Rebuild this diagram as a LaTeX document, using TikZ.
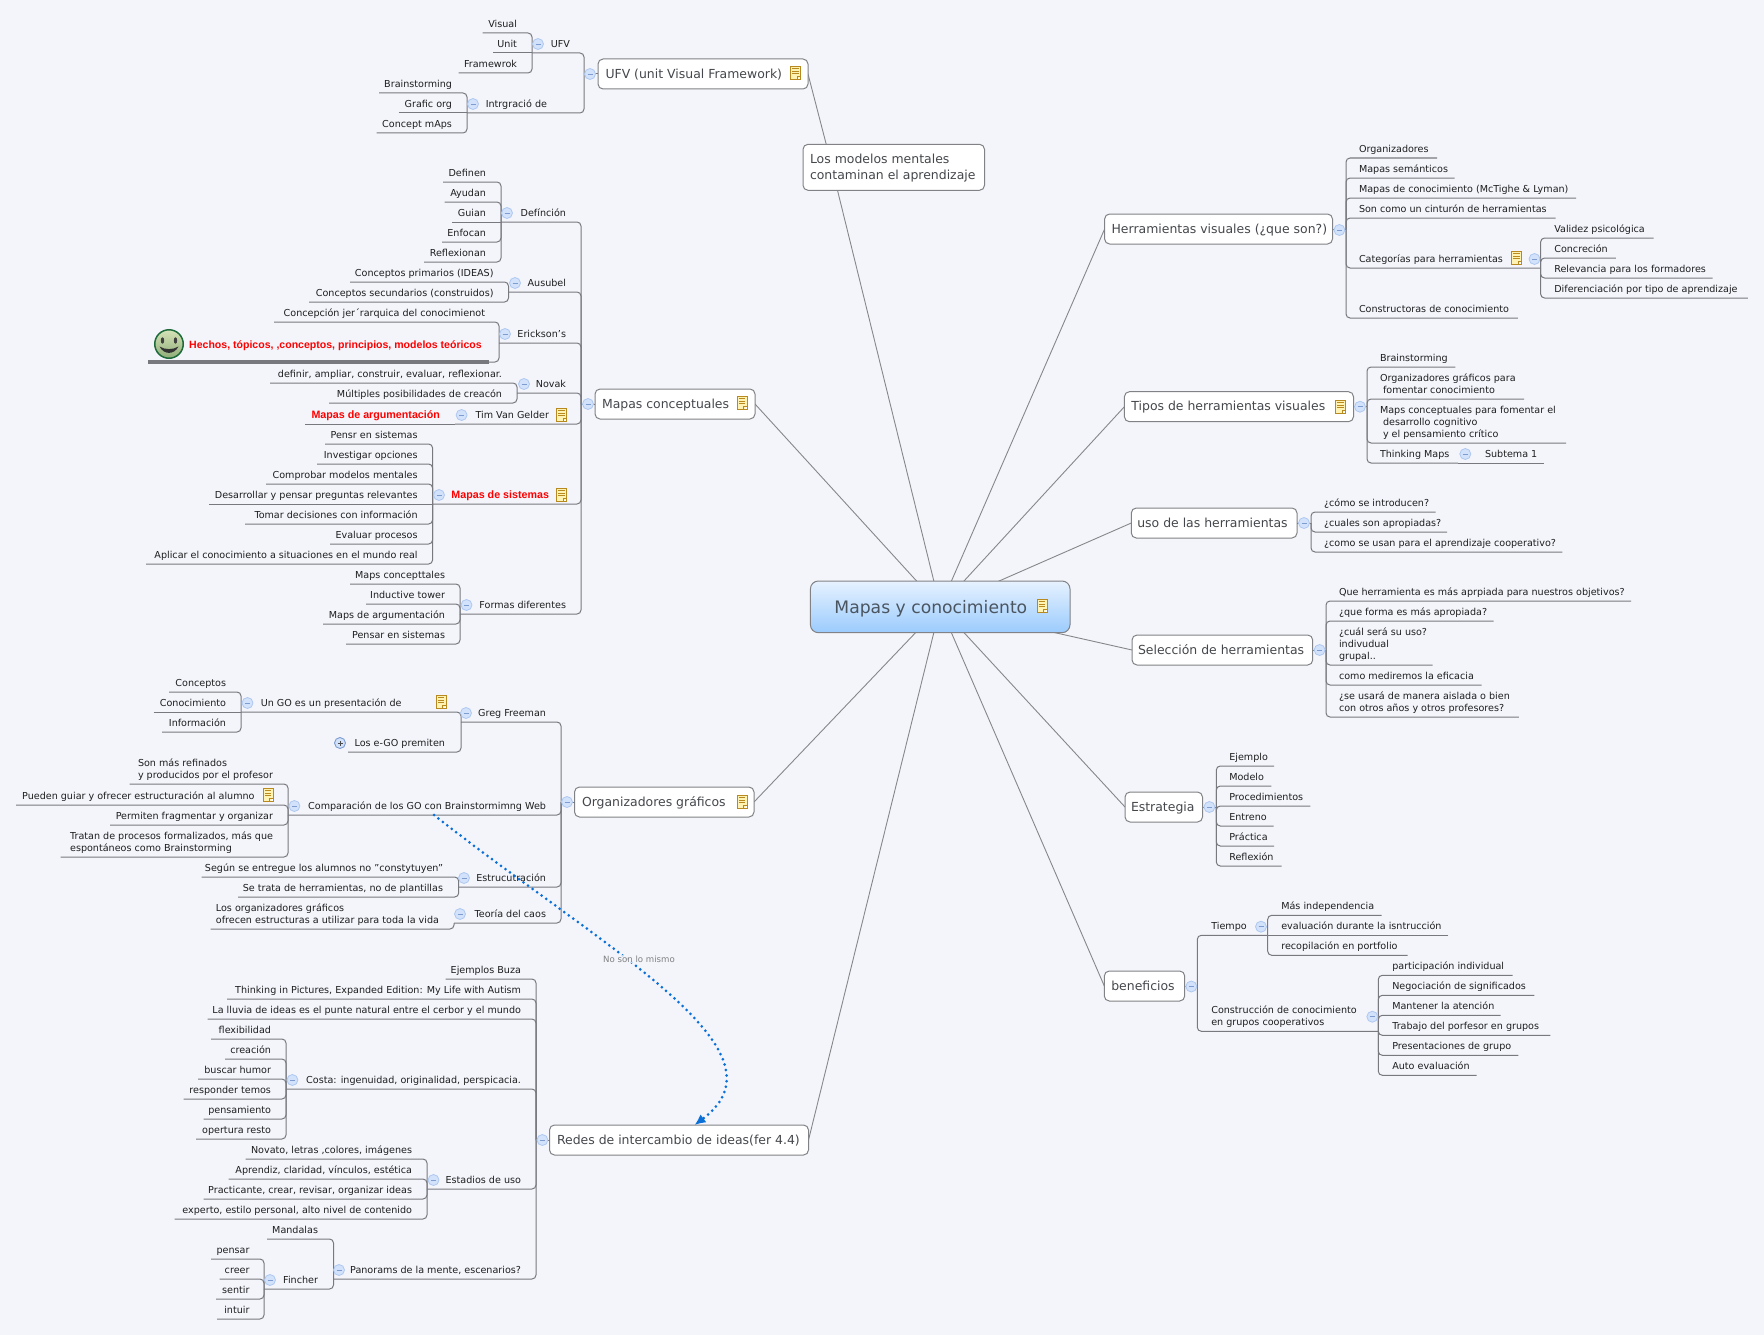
\documentclass[tikz,border=0pt]{standalone}
\usepackage{fontspec}
\setmainfont{DejaVu Sans}
\newfontfamily\boldredfont{Liberation Sans}
\usetikzlibrary{calc,backgrounds,arrows.meta}
\definecolor{pagebg}{HTML}{F3F5FB}
\definecolor{linkgray}{HTML}{77797E}
\definecolor{spokegray}{HTML}{858789}
\definecolor{boxgray}{HTML}{808285}
\definecolor{ink}{HTML}{1E1E1E}
\definecolor{boxink}{HTML}{44474B}
\definecolor{collfill}{HTML}{D2E2FA}
\definecolor{colldraw}{HTML}{AFC8F0}
\definecolor{collbar}{HTML}{7E9CCF}
\definecolor{notefill}{HTML}{FFF3B4}
\definecolor{notedraw}{HTML}{B8891E}
\definecolor{relblue}{HTML}{0A6FD6}
\definecolor{mainink}{HTML}{4A5560}
\definecolor{maintop}{HTML}{E6F2FF}
\definecolor{mainbot}{HTML}{9BCBFD}
\definecolor{smtop}{HTML}{D6E4B8}
\definecolor{smbot}{HTML}{8FAB78}
\definecolor{smedge}{HTML}{1D6B3A}
\tikzset{
  x=1pt,y=-1pt,
  topic/.style={inner sep=0pt,outer sep=0pt,text depth=5.4pt,text=ink,font=\fontsize{9.6}{12}\selectfont},
  link/.style={draw=linkgray,line width=1pt,rounded corners=4pt},
  spoke/.style={draw=spokegray,line width=0.9pt},
  boxnode/.style={draw=boxgray,line width=1pt,fill=white,rounded corners=5pt,inner sep=0pt,outer sep=0pt,text=boxink,font=\fontsize{12.45}{16}\selectfont},
  mainnode/.style={draw=boxgray,line width=1pt,rounded corners=8pt,inner sep=0pt,outer sep=0pt,top color=maintop,bottom color=mainbot,text=mainink,font=\fontsize{17.2}{20}\selectfont},
  collnode/.style={circle,draw=colldraw,fill=collfill,line width=0.8pt,minimum size=11pt,inner sep=0pt,
    path picture={\draw[collbar,line width=0.8pt]([xshift=3pt]path picture bounding box.west)--([xshift=-3pt]path picture bounding box.east);}},
  plusnode/.style={circle,draw=collbar,fill=collfill,line width=0.9pt,minimum size=11pt,inner sep=0pt,
    path picture={\draw[black!70,line width=0.8pt]([xshift=3pt]path picture bounding box.west)--([xshift=-3pt]path picture bounding box.east);
      \draw[black!70,line width=0.8pt]([yshift=3pt]path picture bounding box.south)--([yshift=-3pt]path picture bounding box.north);}},
  notenode/.style={rectangle,draw=notedraw,fill=notefill,line width=1pt,minimum width=10pt,minimum height=13.5pt,inner sep=0pt,
    path picture={\foreach \q in {2.5,4.7,6.9}{\draw[notedraw,line width=0.8pt]($(path picture bounding box.north west)+(1.8,\q)$)--($(path picture bounding box.north east)+(-1.8,\q)$);}
      \fill[white]($(path picture bounding box.south east)+(-3.5,0)$)--(path picture bounding box.south east)--($(path picture bounding box.south east)+(0,-3.5)$)--cycle;
      \draw[notedraw,line width=0.7pt]($(path picture bounding box.south east)+(-3.5,0)$)--($(path picture bounding box.south east)+(-3.5,-3.5)$)--($(path picture bounding box.south east)+(0,-3.5)$);}},
  smileynode/.style={circle,draw=smedge,line width=1.5pt,minimum size=28.5pt,inner sep=0pt,top color=smtop,bottom color=smbot},
  rel/.style={draw=relblue,line width=3pt,line cap=round,dash pattern=on 0pt off 5.6pt,-{Latex[length=11pt,width=10pt]}},
}
\newcommand\redb{\boldredfont\bfseries\fontsize{10.7}{12}\selectfont\color{red}}
% left-growing topic: name, x1, x2, y of rule, gap right of the text, text
\newcommand\LT[6]{\pgfmathsetlengthmacro\wdt{(#3-#2)*1pt}\node[topic,minimum width=\wdt,anchor=south west](#1) at (#2,#4){\makebox[\wdt][r]{\begin{tabular}[b]{@{}l@{}}#6\end{tabular}\hspace*{#5pt}}};}
% right-growing topic: name, x1, x2, y of rule, gap left of the text, text
\newcommand\RT[6]{\pgfmathsetlengthmacro\wdt{(#3-#2)*1pt}\node[topic,minimum width=\wdt,anchor=south west](#1) at (#2,#4){\makebox[\wdt][l]{\hspace*{#5pt}\begin{tabular}[b]{@{}l@{}}#6\end{tabular}}};}
% boxed topic: name, x1, x2, y1, y2, left padding, text (style as optional argument)
\newcommand\BX[8][boxnode]{\pgfmathsetlengthmacro\wdt{(#4-#3)*1pt}\pgfmathsetlengthmacro\hgt{(#6-#5)*1pt}\node[#1,minimum width=\wdt,minimum height=\hgt,anchor=north west](#2) at (#3,#5){\raisebox{0pt}[\dimexpr\height+2pt\relax]{\makebox[\wdt][l]{\hspace*{#7pt}\begin{tabular}{@{}l@{}}#8\end{tabular}}}};}
% connectors
\newcommand\lc[2]{\draw[link](#1.south west)--(#1.south east)--(#2.south west);}
\newcommand\rc[2]{\draw[link](#1.south east)--(#1.south west)--(#2.south east);}
\newcommand\ls[2]{\draw[link](#1.south west)--(#2.south west);}
\newcommand\rs[2]{\draw[link](#1.south east)--(#2.south east);}
\newcommand\lb[2]{\draw[link](#1.south west)--(#1.south east)--(#1.south east |- #2.west);}
\newcommand\rb[2]{\draw[link](#1.south east)--(#1.south west)--(#1.south west |- #2.east);}
\newcommand\cl[3]{\node[collnode](#1) at (#2,#3){};}
\newcommand\nt[3]{\node[notenode](#1) at (#2,#3){};}
\begin{document}
\begin{tikzpicture}
\useasboundingbox (0,0) rectangle (1764,1335);
\begin{scope}[on background layer]
\fill[pagebg] (0,0) rectangle (1764,1335);
\end{scope}

% central and first-level boxes
\BX[mainnode]{main}{810.4}{1070}{581}{632.7}{24}{\rule{0pt}{17.5pt}Mapas y conocimiento}
\BX{modelos}{803}{984.5}{144.3}{190.3}{7}{Los modelos mentales\\contaminan el aprendizaje}
\BX{ufv}{598}{808}{59}{89}{7.5}{UFV (unit Visual Framework)}
\BX{mapas}{595}{755}{389}{419}{7}{Mapas conceptuales}
\BX{orga}{574.5}{754}{787}{817}{7.5}{Organizadores gráficos}
\BX{redes}{549.5}{808.5}{1125}{1155}{7.5}{Redes de intercambio de ideas(fer 4.4)}
\BX{herr}{1104.6}{1332.5}{214}{244}{7}{Herramientas visuales (¿que son?)}
\BX{tipos}{1124.4}{1353.5}{391.7}{421.7}{7}{Tipos de herramientas visuales}
\BX{uso}{1131.3}{1297}{508}{538}{6}{uso de las herramientas}
\BX{sele}{1132}{1312.7}{635}{665}{6}{Selección de herramientas}
\BX{estr}{1125}{1202.5}{792}{822}{6}{Estrategia}
\BX{bene}{1104.3}{1184.7}{971}{1001}{7}{beneficios}

% spokes
\begin{scope}[on background layer]
\draw[spoke](main.center)--($(modelos.south west)!0.19!(modelos.south east)$);
\draw[spoke](ufv.east)--($(modelos.north west)!0.128!(modelos.north east)$);
\draw[spoke](main.center)--(mapas.east);
\draw[spoke](main.center)--(orga.east);
\draw[spoke](main.center)--(redes.east);
\draw[spoke](main.center)--(herr.west);
\draw[spoke](main.center)--(tipos.west);
\draw[spoke](main.center)--(uso.west);
\draw[spoke](main.center)--(sele.west);
\draw[spoke](main.center)--(estr.west);
\draw[spoke](main.center)--(bene.west);
\end{scope}

% UFV branch
\LT{ufvA}{532}{584}{53}{14}{UFV}
\LT{ufvB}{467}{584}{113}{37}{Intrgració de}
\LT{ufvA1}{482.6}{532}{33}{15}{Visual}
\LT{ufvA2}{493}{532}{53}{15}{Unit}
\LT{ufvA3}{458.5}{532}{73}{15}{Framewrok}
\LT{ufvB1}{379}{467}{93}{15}{Brainstorming}
\LT{ufvB2}{398.5}{467}{113}{15}{Grafic org}
\LT{ufvB3}{376.6}{467}{133}{15}{Concept mAps}
\lb{ufvA}{ufv}\lb{ufvB}{ufv}
\draw[link](ufv.west)--(ufvA.south east |- ufv.west);
\lc{ufvA1}{ufvA}\ls{ufvA2}{ufvA}\lc{ufvA3}{ufvA}
\lc{ufvB1}{ufvB}\ls{ufvB2}{ufvB}\lc{ufvB3}{ufvB}
\cl{cUfv}{590}{74}\cl{cUfvA}{538}{44}\cl{cUfvB}{473}{104}

% Mapas conceptuales branch
\LT{mDef}{501}{581}{222}{15}{Defínción}
\LT{mAus}{508.5}{581}{292}{15}{Ausubel}
\LT{mEri}{499}{581}{343}{15}{Erickson's}
\LT{mNov}{517}{581}{393}{15}{Novak}
\LT{mTim}{455}{581}{424}{32}{Tim Van Gelder}
\LT{mSis}{432.6}{581}{504}{32}{\redb Mapas de sistemas}
\LT{mFor}{460}{581}{614}{15}{Formas diferentes}
\foreach \c in {mDef,mAus,mEri,mNov,mTim,mSis,mFor}{\lb{\c}{mapas}}
\draw[link](mapas.west)--(mDef.south east |- mapas.west);
\LT{d1}{443}{501}{182}{15}{Definen}
\LT{d2}{444.5}{501}{202}{15}{Ayudan}
\LT{d3}{452}{501}{222}{15}{Guian}
\LT{d4}{442}{501}{242}{15}{Enfocan}
\LT{d5}{424}{501}{262}{15}{Reflexionan}
\foreach \c in {d1,d2,d4,d5}{\lc{\c}{mDef}}
\ls{d3}{mDef}
\LT{au1}{350}{508.5}{282}{15}{Conceptos primarios (IDEAS)}
\LT{au2}{309}{508.5}{302}{15}{Conceptos secundarios (construidos)}
\lc{au1}{mAus}\lc{au2}{mAus}
\LT{er1}{274}{499}{322}{14}{Concepción jer´rarquica del conocimienot}
\LT{er2}{148}{499}{362}{17.3}{\raisebox{8.5pt}{\redb\fontsize{10.55}{12}\selectfont Hechos, tópicos, ,conceptos, principios, modelos teóricos}}
\lc{er1}{mEri}\lc{er2}{mEri}
\draw[draw=linkgray,line width=4pt](er2.south west)--($(er2.south east)+(-10,0)$);
\node[smileynode](smile) at (169,344){};
\fill[black!75] ($(smile.center)+(-6.5,-3.5)$) ellipse (1.7 and 3.2);
\fill[black!75] ($(smile.center)+(6.5,-3.5)$) ellipse (1.7 and 3.2);
\fill[black!80] ($(smile.center)+(-9.5,2.5)$) .. controls ($(smile.center)+(-5,11)$) and ($(smile.center)+(5,11)$) .. ($(smile.center)+(9.5,2.5)$) .. controls ($(smile.center)+(4,6)$) and ($(smile.center)+(-4,6)$) .. cycle;
\LT{no1}{270}{517}{383}{15}{definir, ampliar, construir, evaluar, reflexionar.}
\LT{no2}{329}{517}{403}{15}{Múltiples posibilidades de creacón}
\lc{no1}{mNov}\lc{no2}{mNov}
\LT{ti1}{305}{455}{424}{15}{\redb Mapas de argumentación}
\ls{ti1}{mTim}
\LT{si1}{325}{432.6}{444}{15}{Pensr en sistemas}
\LT{si2}{317}{432.6}{464}{15}{Investigar opciones}
\LT{si3}{266}{432.6}{484}{15}{Comprobar modelos mentales}
\LT{si4}{209}{432.6}{504}{15}{Desarrollar y pensar preguntas relevantes}
\LT{si5}{245}{432.6}{524}{15}{Tomar decisiones con información}
\LT{si6}{330}{432.6}{544}{15}{Evaluar procesos}
\LT{si7}{146}{432.6}{564}{15}{Aplicar el conocimiento a situaciones en el mundo real}
\foreach \c in {si1,si2,si3,si5,si6,si7}{\lc{\c}{mSis}}
\ls{si4}{mSis}
\LT{fo1}{350}{460}{584}{15}{Maps concepttales}
\LT{fo2}{366}{460}{604}{15}{Inductive tower}
\LT{fo3}{323}{460}{624}{15}{Maps de argumentación}
\LT{fo4}{346}{460}{644}{15}{Pensar en sistemas}
\foreach \c in {fo1,fo2,fo3,fo4}{\lc{\c}{mFor}}
\cl{cMapas}{588}{404}\nt{nMapas}{742}{403}
\cl{cDef}{507}{213}\cl{cAus}{515}{283}\cl{cEri}{505}{334}\cl{cNov}{524}{384}
\cl{cTim}{461.6}{415}\nt{nTim}{561.6}{415}
\cl{cSis}{439}{495}\nt{nSis}{561.6}{495}\cl{cFor}{466.5}{605}

% Organizadores branch
\LT{oGre}{461}{561}{722}{15}{Greg Freeman}
\LT{oCom}{288}{561}{815}{15}{Comparación de los GO con Brainstormimng Web}
\LT{oEst}{458.7}{561}{887}{15}{Estrucutración}
\LT{oTeo}{454}{561}{923}{15}{Teoría del caos}
\foreach \c in {oGre,oCom,oEst,oTeo}{\lb{\c}{orga}}
\draw[link](orga.west)--(oGre.south east |- orga.west);
\LT{gUn}{241}{461}{712}{59.5}{Un GO es un presentación de}
\LT{gLo}{348}{461}{752}{16}{Los e-GO premiten}
\lc{gUn}{oGre}\lc{gLo}{oGre}
\LT{un1}{169}{241}{692}{15}{Conceptos}
\LT{un2}{153.6}{241}{712}{15}{Conocimiento}
\LT{un3}{162}{241}{732}{15}{Información}
\lc{un1}{gUn}\ls{un2}{gUn}\lc{un3}{gUn}
\LT{co1}{129.6}{288}{784}{15}{Son más refinados\\y producidos por el profesor}
\LT{co2}{16}{288}{805}{33.4}{Pueden guiar y ofrecer estructuración al alumno}
\LT{co3}{110}{288}{825}{15}{Permiten fragmentar y organizar}
\LT{co4}{60.7}{288}{857}{15}{Tratan de procesos formalizados, más que\\espontáneos como Brainstorming}
\foreach \c in {co1,co2,co3,co4}{\lc{\c}{oCom}}
\LT{es1}{201.5}{458.7}{877}{15.7}{Según se entregue los alumnos no "constytuyen"}
\LT{es2}{238}{458.7}{897}{15.7}{Se trata de herramientas, no de plantillas}
\lc{es1}{oEst}\lc{es2}{oEst}
\LT{te1}{210.7}{454}{929}{15}{Los organizadores gráficos\\ofrecen estructuras a utilizar para toda la vida}
\lc{te1}{oTeo}
\cl{cOrga}{567}{802}\nt{nOrga}{742}{802}
\cl{cGre}{466}{713}\cl{cUn}{247.5}{703}\nt{nUn}{441}{702}
\node[plusnode](cLo) at (340,743){};
\cl{cCom}{294.4}{806}\nt{nCo}{268}{795}
\cl{cEst}{464}{878}\cl{cTeo}{460}{914}

% Redes branch
\LT{rEje}{445.5}{536}{979}{15}{Ejemplos Buza}
\LT{rThi}{227}{536}{999}{15}{Thinking in Pictures, Expanded Edition: My Life with Autism}
\LT{rLlu}{207.6}{536}{1019}{15}{La lluvia de ideas es el punte natural entre el cerbor y el mundo}
\LT{rCos}{286}{536}{1089}{15}{Costa: ingenuidad, originalidad, perspicacia.}
\LT{rEst}{427}{536}{1189}{15}{Estadios de uso}
\LT{rPan}{333.5}{536}{1279}{15}{Panorams de la mente, escenarios?}
\foreach \c in {rEje,rThi,rLlu,rCos,rEst,rPan}{\lb{\c}{redes}}
\draw[link](redes.west)--(rEje.south east |- redes.west);
\LT{cs1}{211}{286}{1039}{15}{flexibilidad}
\LT{cs2}{225}{286}{1059}{15}{creación}
\LT{cs3}{198}{286}{1079}{15}{buscar humor}
\LT{cs4}{183.5}{286}{1099}{15}{responder temos}
\LT{cs5}{203.6}{286}{1119}{15}{pensamiento}
\LT{cs6}{196}{286}{1139}{15}{opertura resto}
\foreach \c in {cs1,cs2,cs3,cs4,cs5,cs6}{\lc{\c}{rCos}}
\LT{ed1}{245.5}{427}{1159}{15}{Novato, letras ,colores, imágenes}
\LT{ed2}{228.6}{427}{1179}{15}{Aprendiz, claridad, vínculos, estética}
\LT{ed3}{203.6}{427}{1199}{15}{Practicante, crear, revisar, organizar ideas}
\LT{ed4}{174.6}{427}{1219}{15}{experto, estilo personal, alto nivel de contenido}
\foreach \c in {ed1,ed2,ed3,ed4}{\lc{\c}{rEst}}
\LT{pa1}{267}{333.5}{1239}{15.5}{Mandalas}
\LT{pa2}{264}{333.5}{1289}{15.5}{Fincher}
\lc{pa1}{rPan}\lc{pa2}{rPan}
\LT{fi1}{211}{264}{1259}{14.5}{pensar}
\LT{fi2}{219.6}{264}{1279}{14.5}{creer}
\LT{fi3}{216}{264}{1299}{14.5}{sentir}
\LT{fi4}{217}{264}{1319}{14.5}{intuir}
\foreach \c in {fi1,fi2,fi3,fi4}{\lc{\c}{pa2}}
\cl{cRedes}{542.4}{1140}\cl{cCos}{292.4}{1080}\cl{cEd}{433.5}{1180}\cl{cPan}{339}{1270}\cl{cFin}{270}{1280}

% Herramientas branch
\RT{h1}{1346}{1437}{158}{13}{Organizadores}
\RT{h2}{1346}{1454.6}{178}{13}{Mapas semánticos}
\RT{h3}{1346}{1576}{198}{13}{Mapas de conocimiento (McTighe \& Lyman)}
\RT{h4}{1346}{1555.6}{218}{13}{Son como un cinturón de herramientas}
\RT{h5}{1346}{1540.6}{268}{13}{Categorías para herramientas}
\RT{h6}{1346}{1517.8}{318}{13}{Constructoras de conocimiento}
\foreach \c in {h1,h2,h3,h4,h5,h6}{\rb{\c}{herr}}
\draw[link](herr.east)--(h1.south west |- herr.east);
\RT{k1}{1540.6}{1653.6}{238}{13.7}{Validez psicológica}
\RT{k2}{1540.6}{1615.8}{258}{13.7}{Concreción}
\RT{k3}{1540.6}{1712.5}{278}{13.7}{Relevancia para los formadores}
\RT{k4}{1540.6}{1747.8}{298}{13.7}{Diferenciación por tipo de aprendizaje}
\foreach \c in {k1,k2,k3,k4}{\rc{\c}{h5}}
\cl{cHerr}{1339.4}{230}\cl{cH5}{1534.5}{259}\nt{nH5}{1516.5}{258}

% Tipos branch
\RT{t1}{1367}{1455.4}{367}{13}{Brainstorming}
\RT{t2}{1367}{1524}{399}{13}{Organizadores gráficos para\\\hspace*{3pt}fomentar conocimiento}
\RT{t3}{1367}{1566}{443}{13}{Maps conceptuales para fomentar el\\\hspace*{3pt}desarrollo cognitivo\\\hspace*{3pt}y el pensamiento crítico}
\RT{t4}{1367}{1458}{463}{13}{Thinking Maps}
\foreach \c in {t1,t2,t3,t4}{\rb{\c}{tipos}}
\draw[link](tipos.east)--(t1.south west |- tipos.east);
\RT{t41}{1458}{1543.6}{463}{27}{Subtema 1}
\rs{t41}{t4}
\cl{cTipos}{1360}{406.7}\nt{nTipos}{1340.6}{407}\cl{cT4}{1465.3}{454}

% uso branch
\RT{u1}{1311}{1435.6}{512}{13}{¿cómo se introducen?}
\RT{u2}{1311}{1447}{532}{13}{¿cuales son apropiadas?}
\RT{u3}{1311}{1562.4}{552}{13}{¿como se usan para el aprendizaje cooperativo?}
\foreach \c in {u1,u2,u3}{\rb{\c}{uso}}
\draw[link](uso.east)--(u1.south west |- uso.east);
\cl{cUso}{1304}{523}

% Selección branch
\RT{s1}{1326}{1631}{601}{13}{Que herramienta es más aprpiada para nuestros objetivos?}
\RT{s2}{1326}{1493.6}{621}{13}{¿que forma es más apropiada?}
\RT{s3}{1326}{1432.7}{665}{13}{¿cuál será su uso?\\indivudual\\grupal..}
\RT{s4}{1326}{1481.5}{685}{13}{como mediremos la eficacia}
\RT{s5}{1326}{1518.8}{717}{13}{¿se usará de manera aislada o bien\\con otros años y otros profesores?}
\foreach \c in {s1,s2,s3,s4,s5}{\rb{\c}{sele}}
\draw[link](sele.east)--(s1.south west |- sele.east);
\cl{cSele}{1319.6}{650}

% Estrategia branch
\RT{e1}{1216.3}{1274}{766}{13}{Ejemplo}
\RT{e2}{1216.3}{1271.4}{786}{13}{Modelo}
\RT{e3}{1216.3}{1310.4}{806}{13}{Procedimientos}
\RT{e4}{1216.3}{1273.7}{826}{13}{Entreno}
\RT{e5}{1216.3}{1274}{846}{13}{Práctica}
\RT{e6}{1216.3}{1281.7}{866}{13}{Reflexión}
\foreach \c in {e1,e2,e3,e4,e5,e6}{\rb{\c}{estr}}
\draw[link](estr.east)--(e1.south west |- estr.east);
\cl{cEstr}{1209.4}{807}

% beneficios branch
\RT{bT}{1197.3}{1267.7}{935.3}{14}{Tiempo}
\RT{bC}{1197.3}{1378.3}{1031.3}{14}{Construcción de conocimiento\\en grupos cooperativos}
\rb{bT}{bene}\rb{bC}{bene}
\draw[link](bene.east)--(bT.south west |- bene.east);
\RT{bt1}{1267.7}{1381.7}{915.3}{13.6}{Más independencia}
\RT{bt2}{1267.7}{1448.3}{935.3}{13.6}{evaluación durante la isntrucción}
\RT{bt3}{1267.7}{1407.7}{955.3}{13.6}{recopilación en portfolio}
\rc{bt1}{bT}\rs{bt2}{bT}\rc{bt3}{bT}
\RT{bc1}{1378.3}{1512.7}{975.3}{14}{participación individual}
\RT{bc2}{1378.3}{1534.3}{995.3}{14}{Negociación de significados}
\RT{bc3}{1378.3}{1500.7}{1015.3}{14}{Mantener la atención}
\RT{bc4}{1378.3}{1550.3}{1035.3}{14}{Trabajo del porfesor en grupos}
\RT{bc5}{1378.3}{1518.3}{1055.3}{14}{Presentaciones de grupo}
\RT{bc6}{1378.3}{1476.7}{1075.3}{14}{Auto evaluación}
\foreach \c in {bc1,bc2,bc3,bc4,bc5,bc6}{\rc{\c}{bC}}
\cl{cBene}{1191.3}{986.5}\cl{cBT}{1261}{926.7}\cl{cBC}{1372.3}{1016.7}

% note icons of the boxes
\nt{nUfv}{795.5}{73}
\nt{nMain}{1042}{606}

% relationship
\draw[rel]($(oCom.south west)!0.535!(oCom.south east)$) .. controls (605,950) and (795,1050) .. ($(redes.north west)!0.56!(redes.north east)$);
\node[fill=pagebg,fill opacity=0.8,text opacity=1,text=black!50,inner sep=1pt,font=\fontsize{8.6}{10}\selectfont](relabel) at (639,959){No son lo mismo};
\end{tikzpicture}
\end{document}
